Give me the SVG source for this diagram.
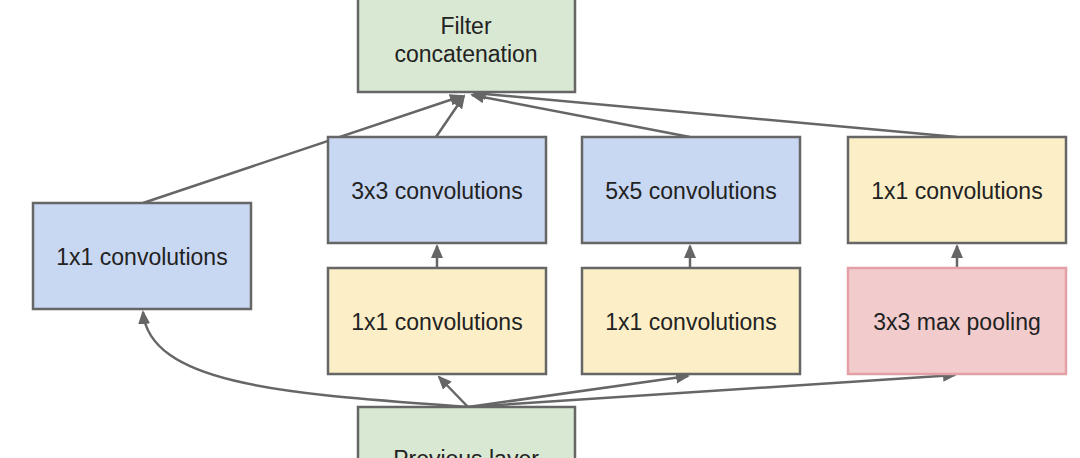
<svg xmlns="http://www.w3.org/2000/svg" width="1080" height="458" viewBox="0 0 1080 458">
<style>
.box{stroke:#666;stroke-width:2.5}
.green{fill:#d9e8d3}
.blue{fill:#c9d8f2}
.yellow{fill:#fcefc8}
.pink{fill:#f2cccd;stroke:#e3a0a6}
text{font-family:"Liberation Sans",Arial,sans-serif;font-size:23px;fill:#222;text-anchor:middle}
.edge{stroke:#666;stroke-width:2.5;fill:none;marker-end:url(#ah)}
</style>
<defs>
<marker id="ah" markerWidth="14" markerHeight="12" refX="12" refY="6" orient="auto" markerUnits="userSpaceOnUse">
<path d="M0,0 L14,6 L0,12 Z" fill="#666"/>
</marker>
</defs>
<rect width="1080" height="458" fill="#fff"/>
<g id="connectors">
<path class="edge" d="M143,203 L462,96"/>
<path class="edge" d="M436,137 L464,96"/>
<path class="edge" d="M690,137 L472,95"/>
<path class="edge" d="M957,137 L474,93"/>
<path class="edge" d="M437,268 L437,246"/>
<path class="edge" d="M690,268 L690,246"/>
<path class="edge" d="M957,268 L957,246"/>
<path class="edge" d="M468,407 C300,394 150,388 143,312"/>
<path class="edge" d="M468,407 L439,377"/>
<path class="edge" d="M468,407 L688,376"/>
<path class="edge" d="M468,407 L955,375"/>
</g>
<g id="filter-concat">
<rect class="box green" x="358" y="-3" width="217" height="95"/>
<text x="466" y="34">Filter</text>
<text x="466" y="62">concatenation</text>
</g>
<g id="conv1x1-left">
<rect class="box blue" x="33" y="203" width="218" height="106"/>
<text x="142" y="265">1x1 convolutions</text>
</g>
<g id="conv3x3">
<rect class="box blue" x="328" y="137" width="218" height="106"/>
<text x="437" y="199">3x3 convolutions</text>
</g>
<g id="conv5x5">
<rect class="box blue" x="582" y="137" width="218" height="106"/>
<text x="691" y="199">5x5 convolutions</text>
</g>
<g id="conv1x1-right-top">
<rect class="box yellow" x="848" y="137" width="218" height="106"/>
<text x="957" y="199">1x1 convolutions</text>
</g>
<g id="conv1x1-a">
<rect class="box yellow" x="328" y="268" width="218" height="106"/>
<text x="437" y="330">1x1 convolutions</text>
</g>
<g id="conv1x1-b">
<rect class="box yellow" x="582" y="268" width="218" height="106"/>
<text x="691" y="330">1x1 convolutions</text>
</g>
<g id="maxpool">
<rect class="box pink" x="848" y="268" width="218" height="106"/>
<text x="957" y="330">3x3 max pooling</text>
</g>
<g id="previous-layer">
<rect class="box green" x="358" y="407" width="217" height="95"/>
<text x="466" y="467">Previous layer</text>
</g>
</svg>
